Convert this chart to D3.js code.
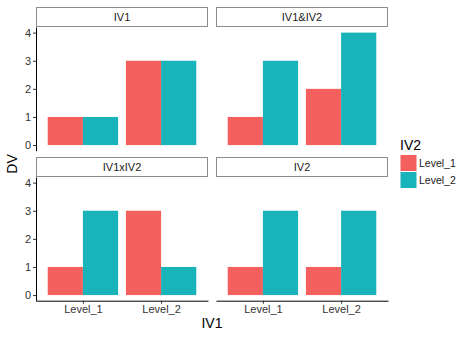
<!DOCTYPE html>
<html>
<head>
<meta charset="utf-8">
<script src="https://cdn.jsdelivr.net/npm/d3@7"></script>
<style>
  body { margin: 0; background: #fff; }
  svg { font-family: "Liberation Sans", Arial, sans-serif; }
</style>
</head>
<body>
<div id="chart"></div>
<script>
// facet panels, x categories and fill groups
const facets = ["IV1", "IV1&IV2", "IV1xIV2", "IV2"];
const levels = ["Level_1", "Level_2"];
const groups = ["Level_1", "Level_2"];
const groupColors = ["#F3605D", "#19B4B9"];

// DV values per facet: [IV1 level][IV2 level]
const valuesIV1 = [[1, 1], [3, 3]];
const valuesIV1andIV2 = [[1, 3], [2, 4]];
const valuesIV1xIV2 = [[1, 3], [3, 1]];
const valuesIV2 = [[1, 3], [1, 3]];
const yTicks = [0, 1, 2, 3, 4];

const facetValues = [valuesIV1, valuesIV1andIV2, valuesIV1xIV2, valuesIV2];

const W = 474, H = 338;
const panelW = 172, panelH = 123.7, stripH = 20;
const colX = [36, 216];
const rowY = [27, 177];

const svg = d3.select("#chart").append("svg")
    .attr("width", W).attr("height", H);

// discrete x with ggplot-style 0.6 expansion
const xScale = d3.scaleLinear().domain([0.4, 2.6]).range([0, panelW]);
const yScale = d3.scaleLinear().domain([-0.2, 4.2]).range([panelH, 0]);
const dodge = d3.scaleBand().domain(groups).range([-0.45, 0.45]);

facets.forEach(function (name, i) {
    const col = i % 2, row = Math.floor(i / 2);
    const g = svg.append("g")
        .attr("transform", `translate(${colX[col]},${rowY[row]})`);

    // strip
    g.append("rect")
        .attr("x", 0.5).attr("y", -stripH + 0.5)
        .attr("width", panelW - 1).attr("height", stripH - 1)
        .attr("fill", "#fff").attr("stroke", "#8c8c8c").attr("stroke-width", 1);
    g.append("text")
        .attr("x", panelW / 2).attr("y", -stripH / 2)
        .attr("dy", "0.35em").attr("text-anchor", "middle")
        .attr("font-size", 11).attr("fill", "#1a1a1a")
        .text(name);

    // bars
    const vals = facetValues[i];
    levels.forEach(function (lv, li) {
        groups.forEach(function (gr, gi) {
            const x0 = li + 1 + dodge(gr);
            g.append("rect")
                .attr("x", xScale(x0))
                .attr("width", xScale(x0 + dodge.bandwidth()) - xScale(x0))
                .attr("y", yScale(vals[li][gi]))
                .attr("height", yScale(0) - yScale(vals[li][gi]))
                .attr("fill", groupColors[gi]);
        });
    });

    if (col === 0) {
        const ya = g.append("g")
            .call(d3.axisLeft(yScale).tickValues(yTicks).tickFormat(d3.format("d"))
                .tickSize(3).tickPadding(2).tickSizeOuter(0));
        ya.select(".domain").attr("stroke", "#000");
        ya.selectAll(".tick line").attr("stroke", "#333");
        ya.selectAll("text").attr("font-size", 11).attr("fill", "#333")
            .attr("font-family", "Liberation Sans, Arial, sans-serif");
    }
    if (row === 1) {
        const xa = g.append("g")
            .attr("transform", `translate(0,${panelH})`)
            .call(d3.axisBottom(xScale).tickValues([1, 2])
                .tickFormat(d => levels[d - 1]).tickSize(3).tickPadding(2).tickSizeOuter(0));
        xa.select(".domain").attr("stroke", "#000");
        xa.selectAll(".tick line").attr("stroke", "#333");
        xa.selectAll("text").attr("font-size", 11).attr("fill", "#333")
            .attr("font-family", "Liberation Sans, Arial, sans-serif");
    }
});

// axis titles
svg.append("text")
    .attr("x", (colX[0] + colX[1] + panelW) / 2).attr("y", 328)
    .attr("text-anchor", "middle").attr("font-size", 14).attr("fill", "#000")
    .text("IV1");
svg.append("text")
    .attr("transform", "translate(17,164) rotate(-90)")
    .attr("text-anchor", "middle").attr("font-size", 14).attr("fill", "#000")
    .text("DV");

// legend
const legend = svg.append("g").attr("transform", "translate(400,138)");
legend.append("text")
    .attr("x", 0).attr("y", 12).attr("font-size", 14).text("IV2");
groups.forEach(function (gr, gi) {
    legend.append("rect")
        .attr("x", 0.5).attr("y", 17 + gi * 17)
        .attr("width", 16).attr("height", 16)
        .attr("fill", groupColors[gi]);
    legend.append("text")
        .attr("x", 19).attr("y", 25 + gi * 17).attr("dy", "0.35em")
        .attr("font-size", 10.5).attr("fill", "#1a1a1a").text(gr);
});
</script>
</body>
</html>
